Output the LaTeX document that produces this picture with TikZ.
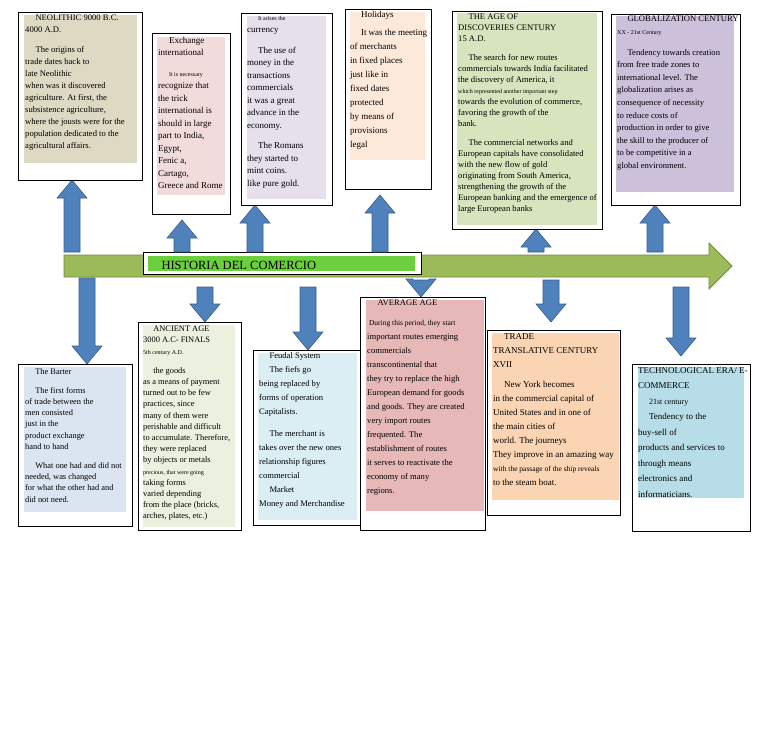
\documentclass[tikz,border=0pt]{standalone}
\usepackage{fontspec}
\setmainfont{Liberation Serif}
\begin{document}
\begin{tikzpicture}[x=1pt,y=-1pt,
  frame/.style={draw=black,line width=0.8pt,fill=white},
  txt/.style={anchor=north west,inner sep=0pt,align=left,font=\fontsize{8.6}{12}\selectfont},
  blk/.style={fill=blue!45!cyan!40!black!100,draw=none},
  sm/.style={}]
\definecolor{cNeo}{HTML}{DDD9C3}\definecolor{cExc}{HTML}{F2DCDB}\definecolor{cCur}{HTML}{E5E0EC}
\definecolor{cHol}{HTML}{FDE9D9}\definecolor{cDis}{HTML}{D7E4BD}\definecolor{cGlo}{HTML}{CCC0DA}
\definecolor{cBar}{HTML}{DBE5F1}\definecolor{cAnc}{HTML}{EBF1DE}\definecolor{cFeu}{HTML}{DAEEF3}
\definecolor{cAve}{HTML}{E6B9B8}\definecolor{cTra}{HTML}{FBD4B4}\definecolor{cTec}{HTML}{B7DEE8}
\definecolor{arrB}{HTML}{4F81BD}\definecolor{arrBd}{HTML}{385D8A}
\definecolor{arrG}{HTML}{9BBB59}\definecolor{arrGd}{HTML}{71893F}
\newcommand\smf{\fontsize{6}{8}\selectfont}
\newcommand\ind{\hspace*{1.2em}}
\newcommand\uparr[3]{\draw[fill=arrB,draw=arrBd,line width=0.6pt] (#1-8,#2) -- (#1-8,#3+18) -- (#1-15,#3+18) -- (#1,#3) -- (#1+15,#3+18) -- (#1+8,#3+18) -- (#1+8,#2) -- cycle;}
\newcommand\dnarr[3]{\draw[fill=arrB,draw=arrBd,line width=0.6pt] (#1-8,#2) -- (#1-8,#3-18) -- (#1-15,#3-18) -- (#1,#3) -- (#1+15,#3-18) -- (#1+8,#3-18) -- (#1+8,#2) -- cycle;}
\useasboundingbox (0,0) rectangle (768,748);
% main arrow
\draw[fill=arrG,draw=arrGd,line width=0.8pt] (64,255) -- (709,255) -- (709,243) -- (732,266) -- (709,289) -- (709,277) -- (64,277) -- cycle;
\node[draw=black,line width=0.8pt,fill=white,minimum width=278pt,minimum height=22pt,inner sep=0pt] (title) at (282,263) {};
\fill[green!60!lime!70!black!60!white,fill=arrG!70!green] (148,256) rectangle (415,271);
\node[font=\fontsize{12.5}{14}\selectfont,anchor=west] (titlet) at (158,265) {HISTORIA DEL COMERCIO};
% blue arrows
\uparr{72}{252}{180}\uparr{182}{252}{220}\uparr{255}{252}{205}\uparr{380}{252}{195}\uparr{536}{252}{229}\uparr{655}{252}{205}
\dnarr{87}{278}{364}\dnarr{205}{287}{322}\dnarr{308}{287}{350}\dnarr{421}{280}{297}\dnarr{551}{280}{322}\dnarr{681}{287}{356}
% boxes
\draw[frame] (18,12) rectangle (142,180); \fill[cNeo] (24,15) rectangle (137,163);
\node[txt] (neo) at (25,15) {\ind NEOLITHIC 9000 B.C.\\4000 A.D.\\[8pt]\ind The origins of\\trade dates back to\\late Neolithic\\when was it discovered\\agriculture. At first, the\\subsistence agriculture,\\where the jousts were for the\\population dedicated to the\\agricultural affairs.};
\draw[frame] (152,33) rectangle (230,214); \fill[cExc] (157,37) rectangle (225,195);
\node[txt,font=\fontsize{9}{12.5}\selectfont] (exc) at (158,37) {\ind Exchange\\international\\[8pt]\ind{\smf It is necessary}\\recognize that\\the trick\\international is\\should in large\\part to India,\\Egypt,\\Fenic a,\\Cartago,\\Greece and Rome};
\draw[frame] (241,13) rectangle (332,205); \fill[cCur] (247,16) rectangle (326,199);
\node[txt,font=\fontsize{9}{12.5}\selectfont] (cur) at (247,16) {\ind{\smf It arises the}\\currency\\[8pt]\ind The use of\\money in the\\transactions\\commercials\\it was a great\\advance in the\\economy.\\[8pt]\ind The Romans\\they started to\\mint coins.\\like pure gold.};
\draw[frame] (345,9) rectangle (431,189); \fill[cHol] (350,12) rectangle (425,160);
\node[txt,font=\fontsize{9}{14}\selectfont] (hol) at (350,11) {\ind Holidays\\[4pt]\ind It was the meeting\\of merchants\\in fixed places\\just like in\\fixed dates\\protected\\by means of\\provisions\\legal};
\draw[frame] (452,11) rectangle (602,229); \fill[cDis] (457,13) rectangle (597,225);
\node[txt,font=\fontsize{8.6}{11}\selectfont] (dis) at (458,14) {\ind THE AGE OF\\DISCOVERIES CENTURY\\15 A.D.\\[8pt]\ind The search for new routes\\commercials towards India facilitated\\the discovery of America, it\\{\smf which represented another important step}\\towards the evolution of commerce,\\favoring the growth of the\\bank.\\[8pt]\ind The commercial networks and\\European capitals have consolidated\\with the new flow of gold\\originating from South America,\\strengthening the growth of the\\European banking and the emergence of\\large European banks};
\draw[frame] (611,14) rectangle (740,205); \fill[cGlo] (616,16) rectangle (734,192);
\node[txt,font=\fontsize{8.6}{12.6}\selectfont] (glo) at (617,16) {\ind GLOBALIZATION CENTURY\\{\smf XX - 21st Century}\\[8pt]\ind Tendency towards creation\\from free trade zones to\\international level. The\\globalization arises as\\consequence of necessity\\to reduce costs of\\production in order to give\\the skill to the producer of\\to be competitive in a\\global environment.};
\draw[frame] (18,364) rectangle (132,526); \fill[cBar] (24,367) rectangle (126,512);
\node[txt,font=\fontsize{8.4}{11.2}\selectfont] (bar) at (25,368) {\ind The Barter\\[8pt]\ind The first forms\\of trade between the\\men consisted\\just in the\\product exchange\\hand to hand\\[8pt]\ind What one had and did not\\needed, was changed\\for what the other had and\\did not need.};
\draw[frame] (138,322) rectangle (241,530); \fill[cAnc] (143,325) rectangle (235,527);
\node[txt,font=\fontsize{8.4}{11.2}\selectfont] (anc) at (143,326) {\ind ANCIENT AGE\\3000 A.C- FINALS\\{\smf 5th century A.D.}\\[8pt]\ind the goods\\as a means of payment\\turned out to be few\\practices, since\\many of them were\\perishable and difficult\\to accumulate. Therefore,\\they were replaced\\by objects or metals\\{\smf precious, that were going}\\taking forms\\varied depending\\from the place (bricks,\\arches, plates, etc.)};
\draw[frame] (253,350) rectangle (362,525); \fill[cFeu] (258,353) rectangle (357,520);
\node[txt,font=\fontsize{8.6}{14}\selectfont] (feu) at (259,352) {\ind Feudal System\\\ind The fiefs go\\being replaced by\\forms of operation\\Capitalists.\\[8pt]\ind The merchant is\\takes over the new ones\\relationship figures\\commercial\\\ind Market\\Money and Merchandise};
\draw[frame] (360,297) rectangle (485,530); \fill[cAve] (366,300) rectangle (484,511);
\node[txt,font=\fontsize{8.6}{14}\selectfont] (ave) at (367,300) {\ind AVERAGE AGE\\[6pt]{\fontsize{7.5}{9}\selectfont\ During this period, they start}\\important routes emerging\\commercials\\transcontinental that\\they try to replace the high\\European demand for goods\\and goods. They are created\\very import routes\\frequented. The\\establishment of routes\\it serves to reactivate the\\economy of many\\regions.};
\draw[frame] (487,330) rectangle (620,515); \fill[cTra] (492,333) rectangle (619,500);
\node[txt,font=\fontsize{9}{14}\selectfont] (tra) at (493,333) {\ind TRADE\\TRANSLATIVE CENTURY\\XVII\\[6pt]\ind New York becomes\\in the commercial capital of\\United States and in one of\\the main cities of\\world. The journeys\\They improve in an amazing way\\{\fontsize{7.5}{9}\selectfont with the passage of the ship reveals}\\to the steam boat.};
\draw[frame] (632,364) rectangle (750,531); \fill[cTec] (638,367) rectangle (744,498);
\node[txt,font=\fontsize{9}{15.5}\selectfont] (tec) at (638,367) {TECHNOLOGICAL ERA/ E-\\COMMERCE\\\ind{\fontsize{8}{9}\selectfont 21st century}\\\ind Tendency to the\\buy-sell of\\products and services to\\through means\\electronics and\\informaticians.};
\end{tikzpicture}
\end{document}
